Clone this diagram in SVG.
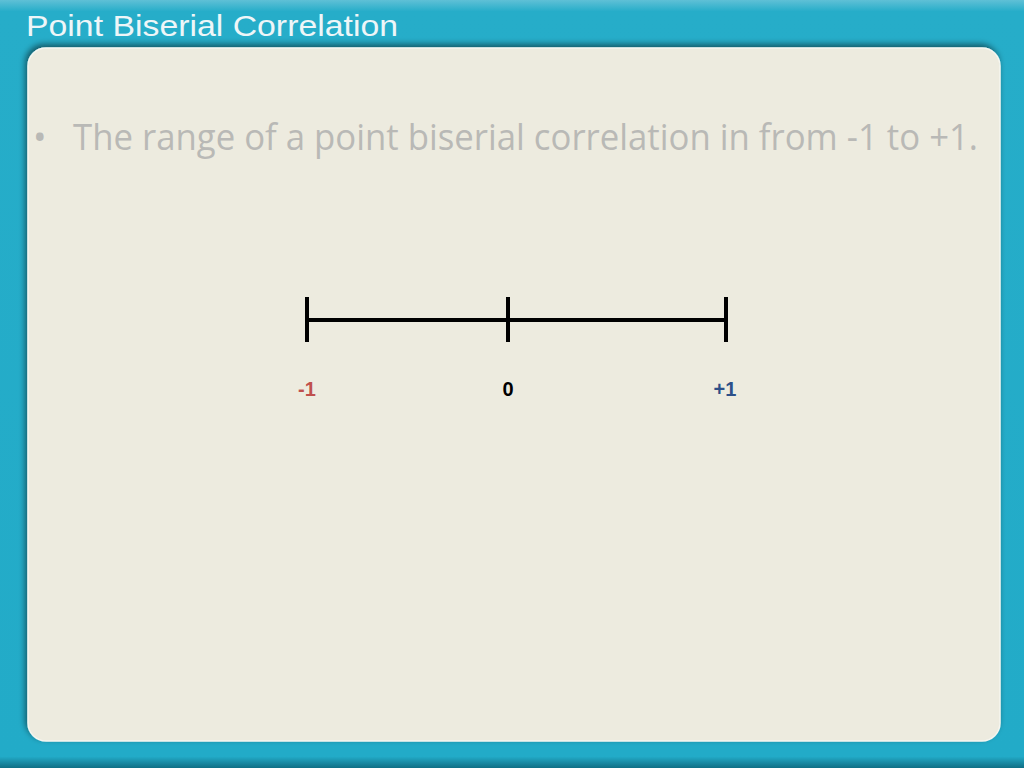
<svg xmlns="http://www.w3.org/2000/svg" width="1024" height="768" viewBox="0 0 1024 768">
  <defs>
    <linearGradient id="bg" x1="0" y1="0" x2="0" y2="1">
      <stop offset="0" stop-color="#5fc0d6"/>
      <stop offset="0.015" stop-color="#26adc9"/>
      <stop offset="0.985" stop-color="#22abc8"/>
      <stop offset="0.992" stop-color="#1a8ea8"/>
      <stop offset="1" stop-color="#0f6f85"/>
    </linearGradient>
    <filter id="shadow" x="-5%" y="-5%" width="110%" height="110%">
      <feGaussianBlur in="SourceAlpha" stdDeviation="3"/>
      <feOffset dx="-2" dy="-3" result="b"/>
      <feComponentTransfer><feFuncA type="linear" slope="0.5"/></feComponentTransfer>
      <feMerge><feMergeNode/><feMergeNode in="SourceGraphic"/></feMerge>
    </filter>
    <style>
      .title { font-family: "Liberation Sans", Arial, sans-serif; font-size: 30px; fill: #eef6f8; }
      .bullet { font-family: "Open Sans", "Liberation Sans", sans-serif; font-size: 36px; fill: #b9b9b6; }
      .axis { stroke: #000; stroke-width: 4; fill: none; }
      .lbl { font-family: "Liberation Sans", Arial, sans-serif; font-size: 20px; font-weight: bold; text-anchor: middle; }
    </style>
  </defs>
  <rect x="0" y="0" width="1024" height="768" fill="url(#bg)"/>
  <rect x="28" y="48" width="972" height="693" rx="18" ry="18" fill="#edebdf" stroke="#f6f6f0" stroke-width="1.5" filter="url(#shadow)"/>
  <g id="title">
    <text class="title" x="26" y="36" textLength="372" lengthAdjust="spacingAndGlyphs">Point Biserial Correlation</text>
  </g>
  <g id="bullet">
    <text class="bullet" x="33" y="150">•</text>
    <text class="bullet" x="73" y="150" textLength="905" lengthAdjust="spacingAndGlyphs">The range of a point biserial correlation in from -1 to +1.</text>
  </g>
  <g id="numberline">
    <line class="axis" x1="307" y1="320" x2="726" y2="320"/>
    <line class="axis" x1="307" y1="297" x2="307" y2="342"/>
    <line class="axis" x1="508" y1="297" x2="508" y2="342"/>
    <line class="axis" x1="726" y1="297" x2="726" y2="342"/>
  </g>
  <g id="label-neg1"><text class="lbl" x="307" y="396" fill="#c0504d">-1</text></g>
  <g id="label-0"><text class="lbl" x="508" y="396" fill="#000">0</text></g>
  <g id="label-pos1"><text class="lbl" x="725" y="396" fill="#2d5089">+1</text></g>
</svg>
